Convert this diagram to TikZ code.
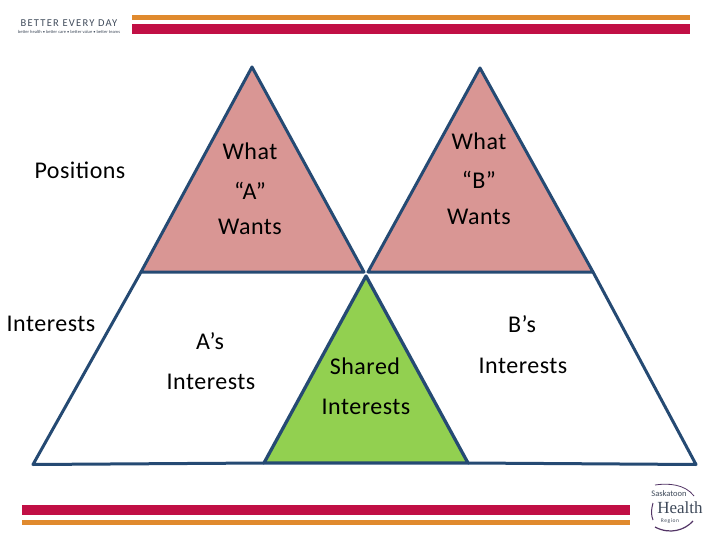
\documentclass[tikz,border=0pt]{standalone}
\usepackage{fontspec}
\setmainfont{Carlito}
\setsansfont{Liberation Serif}
\definecolor{edgeblue}{HTML}{254A73}
\definecolor{rosefill}{HTML}{D99694}
\definecolor{greenfill}{HTML}{92D050}
\definecolor{barorange}{HTML}{E08A2E}
\definecolor{barred}{HTML}{C10F45}
\definecolor{logoink}{HTML}{3F4A5A}
\tikzset{
  tri/.style={draw=edgeblue,line width=3pt,line join=round},
  lbl/.style={font=\fontsize{24}{26}\selectfont\addfontfeature{LetterSpace=2},text=black,inner sep=0pt,anchor=center},
  barbox/.style={draw=none}
}
\begin{document}
\begin{tikzpicture}[x=1pt,y=-1pt]
\useasboundingbox (0,0) rectangle (720,540);
% bars
\fill[barorange,barbox] (132,15.5) rectangle (690,20);
\fill[barred,barbox] (132,24) rectangle (690,34);
\fill[barred,barbox] (22,505) rectangle (630,515);
\fill[barorange,barbox] (22,520) rectangle (630,524.5);
% vertices
\coordinate (aTop) at (252,67);
\coordinate (aL) at (141,272);
\coordinate (aR) at (364,272);
\coordinate (bTop) at (480,68);
\coordinate (bL) at (368,272);
\coordinate (bR) at (593,272);
\coordinate (lowL) at (33,464.5);
\coordinate (lowMidL) at (264,463);
\coordinate (lowMidR) at (468,463);
\coordinate (lowR) at (696,464.5);
\coordinate (gTop) at (366,276);
% big triangle outlines
\draw[tri] (aL) -- (lowL) -- (lowMidL);
\draw[tri] (bR) -- (lowR) -- (lowMidR);
% pink triangles
\draw[tri,fill=rosefill] (aTop) -- (aL) -- (aR) -- cycle;
\draw[tri,fill=rosefill] (bTop) -- (bL) -- (bR) -- cycle;
% green
\draw[tri,fill=greenfill,line width=3.3pt] (gTop) -- (lowMidL) -- (lowMidR) -- cycle;
% labels
\node[lbl] (pos) at (80,170) {Positions};
\node[lbl] (int) at (51,324) {Interests};
\node[lbl] (aw1) at (250,151) {What};
\node[lbl] (aw2) at (250,191) {“A”};
\node[lbl] (aw3) at (250,227) {Wants};
\node[lbl] (bw1) at (479,141) {What};
\node[lbl] (bw2) at (479,180) {“B”};
\node[lbl] (bw3) at (479,217) {Wants};
\node[lbl] (ai1) at (210,341) {A’s};
\node[lbl] (ai2) at (211,382) {Interests};
\node[lbl] (bi1) at (522,324) {B’s};
\node[lbl] (bi2) at (523,366) {Interests};
\node[lbl] (si1) at (365,366) {Shared};
\node[lbl] (si2) at (366,407) {Interests};
% logos
\node[inner sep=0pt,text=logoink,font=\fontsize{10.5}{11}\selectfont\addfontfeature{LetterSpace=12}] (bed) at (69,23) {BETTER EVERY DAY};
\node[inner sep=0pt,text=logoink,font=\fontsize{4.5}{5}\selectfont] (bedtag) at (69,31.5) {better health • better care • better value • better teams};
\node[inner sep=0pt,text=logoink,font=\fontsize{8.5}{9}\selectfont] (sas) at (669,494) {Saskatoon};
\node[inner sep=0pt,text=logoink,font=\fontsize{17}{18}\sffamily\selectfont] (hea) at (680,508) {Health};
\node[inner sep=0pt,text=logoink,font=\fontsize{5.5}{6}\selectfont\addfontfeature{LetterSpace=10}] (reg) at (670,521) {Region};
\draw[logoink!70!violet,line width=1pt] (653,503) .. controls (651,510) and (651,515) .. (653,520);
\draw[logoink!70!violet,line width=1.2pt] (655,527) .. controls (670,535) and (685,530) .. (693,521);
\draw[logoink!70!violet,line width=.8pt] (655,485) .. controls (668,483) and (685,484) .. (694,496);
\end{tikzpicture}
\end{document}
